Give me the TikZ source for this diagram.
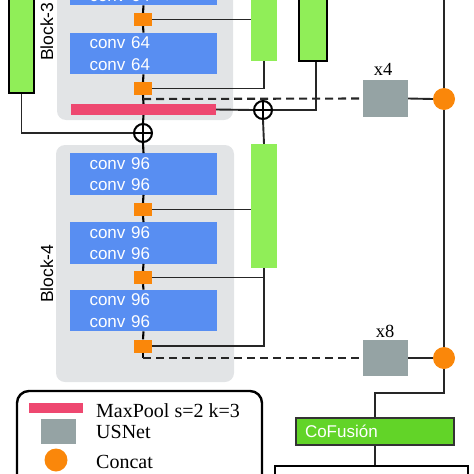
\documentclass[tikz,border=0pt]{standalone}
\usepackage{fontspec}
\setmainfont{Liberation Serif}
\setsansfont{Liberation Sans}
\usetikzlibrary{calc}
\definecolor{cblue}{RGB}{88,142,242}
\definecolor{cbg}{RGB}{226,228,230}
\definecolor{corange}{RGB}{250,135,10}
\definecolor{cpink}{RGB}{238,72,112}
\definecolor{clgreen}{RGB}{144,238,88}
\definecolor{cdgreen}{RGB}{98,212,40}
\definecolor{cgray}{RGB}{149,163,164}
\begin{document}
\begin{tikzpicture}[x=1pt,y=-1pt,
  conn/.style={line width=1.9pt, black!85},
  spine/.style={line width=2.1pt, black},
  dashline/.style={line width=2.1pt, black!85, dash pattern=on 8pt off 5pt},
  blockbg/.style={fill=cbg, draw=none, rounded corners=9pt, inner sep=0pt},
  convbox/.style={fill=cblue, draw=none, minimum width=147pt, minimum height=41.5pt,
    text width=108pt, align=left, inner sep=0pt, text=white,
    font=\sffamily\fontsize{17}{21.5}\selectfont},
  orsq/.style={fill=corange, draw=none, minimum width=18pt, minimum height=13pt, inner sep=0pt},
  poolbar/.style={fill=cpink, draw=none, minimum width=145pt, minimum height=11pt, inner sep=0pt},
  gbar/.style={fill=clgreen, draw=none, inner sep=0pt},
  gbarb/.style={fill=clgreen, draw=black, line width=2.2pt, inner sep=0pt},
  oplus/.style={circle, draw=black, line width=2pt, minimum size=18pt, inner sep=0pt, fill=none},
  usbox/.style={fill=cgray, draw=none, minimum width=45pt, minimum height=37pt, inner sep=0pt},
  concat/.style={circle, fill=corange, draw=none, minimum size=22pt, inner sep=0pt},
  blocklab/.style={rotate=90, anchor=base west, inner sep=0pt, font=\sffamily\fontsize{17.5}{20}\selectfont},
  xlab/.style={anchor=base, inner sep=0pt, font=\fontsize{18.5}{20}\selectfont},
  legtxt/.style={anchor=base west, inner sep=0pt, font=\fontsize{20}{22}\selectfont}
]
\path[use as bounding box] (0,0) rectangle (474,474);
\clip (0,0) rectangle (474,474);

% block backgrounds
\node[blockbg, minimum width=176pt, minimum height=190pt] (b3) at (145,25) {};
\node[blockbg, minimum width=178pt, minimum height=237pt] (b4) at (145,263.5) {};

% block labels
\node[blocklab] (lab3) at (53,61) {Block-3};
\node[blocklab] (lab4) at (53,303) {Block-4};

% conv boxes
\node[convbox] (c31) at (143.5,-15.5) {conv 64\\conv 64};
\node[convbox] (c32) at (143.5,53.5) {conv 64\\conv 64};
\node[convbox] (c41) at (143.5,174) {conv 96\\conv 96};
\node[convbox] (c42) at (143.5,243) {conv 96\\conv 96};
\node[convbox] (c43) at (143.5,310.5) {conv 96\\conv 96};

% orange squares
\node[orsq] (o31) at (143,19.5) {};
\node[orsq] (o32) at (143,88.5) {};
\node[orsq] (o41) at (143,209.5) {};
\node[orsq] (o42) at (143,277.5) {};
\node[orsq] (o43) at (143,346) {};

% maxpool
\node[poolbar] (pool) at (143.5,109.5) {};

% green bars
\node[gbar, minimum width=26pt, minimum height=90pt] (g3) at (264,16) {};
\node[gbarb, minimum width=28pt, minimum height=90pt] (gB) at (313,16) {};
\node[gbarb, minimum width=25pt, minimum height=120pt] (gL) at (21.5,33) {};
\node[gbar, minimum width=26pt, minimum height=124pt] (g4) at (264,206) {};

% oplus nodes
\node[oplus] (opA) at (143,133) {};
\node[oplus] (opB) at (263,110) {};
\draw[line width=2pt] (opA.north) -- (opA.south) (opA.west) -- (opA.east);
\draw[line width=2pt] (opB.north) -- (opB.south) (opB.west) -- (opB.east);

% USNet boxes and concat
\node[usbox] (us4) at (385.5,98.5) {};
\node[usbox, minimum height=36pt] (us8) at (385.5,358) {};
\node[xlab] (x4) at (383,75) {x4};
\node[xlab] (x8) at (385,337) {x8};
\node[concat] (cc4) at (444,99) {};
\node[concat] (cc8) at (444,358) {};

% CoFusion and output
\node[fill=cdgreen, draw=black!80, line width=1.4pt, minimum width=158pt, minimum height=27pt,
  text width=140pt, inner xsep=9pt, inner ysep=0pt, align=left, text=white,
  font=\sffamily\fontsize{17}{20}\selectfont] (cof) at (375,431.5) {CoFusión};
\node[fill=white, draw=black, line width=2.2pt, minimum width=193pt, minimum height=54pt, inner sep=0pt] (out) at (371.5,493) {};

% spine
\draw[spine] (c31.south) -- (o31.north);
\draw[spine] (o31.south) -- (c32.north);
\draw[spine] (c32.south) -- (o32.north);
\draw[spine] (o32.south) -- (pool.north);
\draw[spine] (pool.south) -- (opA.north);
\draw[spine] (opA.south) -- (c41.north);
\draw[spine] (c41.south) -- (o41.north);
\draw[spine] (o41.south) -- (c42.north);
\draw[spine] (c42.south) -- (o42.north);
\draw[spine] (o42.south) -- (c43.north);
\draw[spine] (c43.south) -- (o43.north);
\coordinate (d3) at (143,99);
\coordinate (d4) at (143,358);
\draw[spine] (o43.south) -- (d4);
\draw[dashline] (d3) -- (us4.west);
\draw[dashline] (d4) -- (us8.west);

% side connections
\draw[conn] (o31.east) -- (o31.east -| g3.west);
\draw[conn] (o32.east) -| (g3.south);
\draw[conn] (pool.east) -- (opB.west);
\draw[conn] (opB.east) -| ($(gB.south)+(3,0)$);
\draw[conn] (opB.south) -- (g4.north);
\draw[conn] (gL.south) |- (opA.west);
\draw[conn] (o41.east) -- (o41.east -| g4.west);
\draw[conn] (o42.east) -| (g4.south);
\draw[conn] (o43.east) -| (g4.south);
\draw[conn] (us4.east) -- (cc4.west);
\draw[conn] (us8.east) -- (cc8.west);
\coordinate (ctop) at (444,-5);
\coordinate (turn) at (444,393);
\draw[conn] (ctop) -- (cc4.north);
\draw[conn] (cc4.south) -- (cc8.north);
\draw[conn] (cc8.south) -- (turn) -| (cof.north);
\draw[conn] (cof.south) -- (cof.south |- out.north);

% legend
\node[draw=black, line width=2.4pt, rounded corners=12pt, minimum width=245pt, minimum height=129pt, inner sep=0pt] (leg) at (139.5,455.5) {};
\node[fill=cpink, minimum width=54pt, minimum height=10pt, inner sep=0pt] (lpool) at (56,408) {};
\node[fill=cgray, minimum width=35pt, minimum height=25pt, inner sep=0pt] (lus) at (58.5,431.5) {};
\node[concat, minimum size=23pt] (lcc) at (56,460) {};
\node[legtxt] (t1) at (96,417) {MaxPool s=2 k=3};
\node[legtxt] (t2) at (96,438) {USNet};
\node[legtxt] (t3) at (96,468) {Concat};
\end{tikzpicture}
\end{document}
